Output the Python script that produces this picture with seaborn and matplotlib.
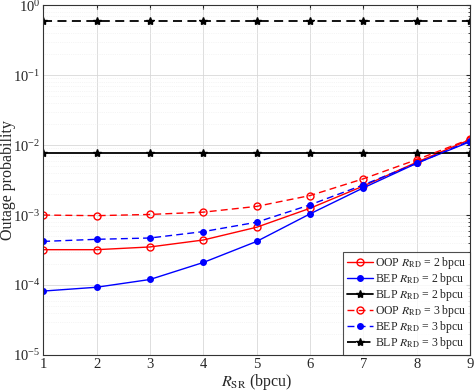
import numpy as np
import pandas as pd
import matplotlib
matplotlib.use("Agg")
import matplotlib.pyplot as plt
import seaborn as sns

x_vals = [1, 2, 3, 4, 5, 6, 7, 8, 9]
oop_2 = [3.2e-4, 3.2e-4, 3.5e-4, 4.4e-4, 6.7e-4, 1.25e-3, 2.6e-3, 5.7e-3, 1.2e-2]
bep_2 = [8.2e-5, 9.3e-5, 1.2e-4, 2.1e-4, 4.2e-4, 1.04e-3, 2.45e-3, 5.5e-3, 1.12e-2]
blp_2 = [7.8e-3] * 9
oop_3 = [1.0e-3, 9.8e-4, 1.02e-3, 1.1e-3, 1.33e-3, 1.9e-3, 3.3e-3, 6.2e-3, 1.22e-2]
bep_3 = [4.2e-4, 4.5e-4, 4.7e-4, 5.8e-4, 7.9e-4, 1.4e-3, 2.7e-3, 5.5e-3, 1.15e-2]
blp_3 = [0.59] * 9
labels = [r"OOP $R_{\rm RD}$ = 2 bpcu", r"BEP $R_{\rm RD}$ = 2 bpcu", r"BLP $R_{\rm RD}$ = 2 bpcu",
          r"OOP $R_{\rm RD}$ = 3 bpcu", r"BEP $R_{\rm RD}$ = 3 bpcu", r"BLP $R_{\rm RD}$ = 3 bpcu"]

sns.set_style("white")
plt.rcParams['font.family'] = ['Liberation Serif', 'DejaVu Serif']
plt.rcParams['mathtext.fontset'] = 'stix'

fig = plt.figure(figsize=(4.74, 3.91), dpi=100)
ax = fig.add_axes([0.091, 0.092, 0.901, 0.895])

series = [oop_2, bep_2, blp_2, oop_3, bep_3, blp_3]
colors = ['#ff0000', '#0000ff', '#000000', '#ff0000', '#0000ff', '#000000']
styles = ['-', '-', '-', (0, (5, 3)), (0, (5, 3)), (0, (5, 3))]
markers = ['o', 'o', '*', 'o', 'o', '*']
mfc = ['none', '#0000ff', '#000000', 'none', '#0000ff', '#000000']
msize = [5, 4, 6, 5, 4, 6]
lws = [1.0, 1.0, 1.3, 1.0, 1.0, 1.3]

for s, c, ls, m, f, ms, lw, lab in zip(series, colors, styles, markers, mfc, msize, lws, labels):
    df = pd.DataFrame({'x': x_vals, 'y': s})
    sns.lineplot(data=df, x='x', y='y', ax=ax, color=c, linestyle=ls, marker=m,
                 markerfacecolor=f, markeredgecolor=c, markersize=ms, linewidth=lw,
                 label=lab, markeredgewidth=1.0)

ax.set_yscale('log')
ax.set_xlim(1, 9)
ax.set_ylim(1e-5, 1)
ax.set_xticks(x_vals)
ax.set_xticklabels([str(v) for v in x_vals])
ax.grid(True, which='major', color='#d8d8d8', linewidth=0.6)
ax.grid(True, which='minor', color='#ececec', linewidth=0.5, linestyle=':')
ax.tick_params(which='both', direction='in', top=True, right=True, labelsize=10.5, length=3)
ax.tick_params(axis='y', pad=2)
ax.tick_params(axis='x', pad=2)
ax.tick_params(which='minor', length=1.5)
for sp in ax.spines.values():
    sp.set_color('#333333')
    sp.set_linewidth(0.8)
ax.set_xlabel(r"$R_{\rm SR}$ (bpcu)", fontsize=11.5, va='top')
ax.xaxis.set_label_coords(0.5, -0.049)
ax.set_ylabel("Outage probability", fontsize=11.5)
ax.yaxis.set_label_coords(-0.064, 0.5)
leg = ax.legend(loc='lower right', fontsize=8.5, frameon=True, fancybox=False,
                edgecolor='#222222', borderaxespad=0.0, handlelength=2.2,
                handletextpad=0.2, labelspacing=0.0, borderpad=0.3)
leg.get_frame().set_linewidth(0.8)
fig.savefig("out.png", dpi=100)
